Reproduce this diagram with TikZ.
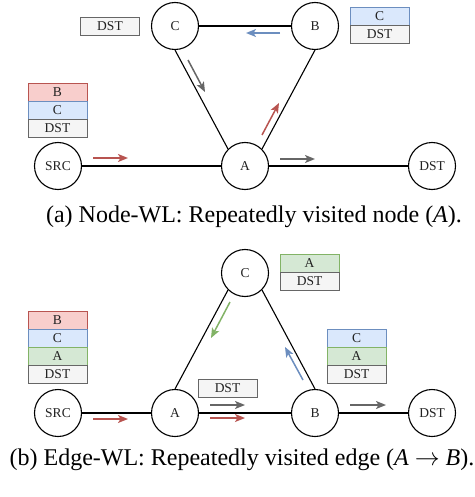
\documentclass[tikz,border=0pt]{standalone}
\usepackage{fontspec}
\setmainfont{Liberation Serif}
\usetikzlibrary{arrows.meta}
\definecolor{rfill}{HTML}{F8CECC}\definecolor{rline}{HTML}{B85450}
\definecolor{bfill}{HTML}{DAE8FC}\definecolor{bline}{HTML}{6C8EBF}
\definecolor{gfill}{HTML}{D5E8D4}\definecolor{gline}{HTML}{82B366}
\definecolor{kfill}{HTML}{F5F5F5}\definecolor{kline}{HTML}{666666}
\definecolor{txt}{HTML}{222222}
\begin{document}
\begin{tikzpicture}[x=1pt,y=-1pt,
  vert/.style={circle,draw=black,line width=1.1pt,fill=white,minimum size=47pt,inner sep=0pt,
    font=\fontsize{13.5}{15}\selectfont,text=txt},
  edge/.style={draw=black,line width=1.1pt},
  cell/.style={draw,line width=0.9pt,minimum width=59pt,minimum height=18pt,inner sep=0pt,
    text height=9pt,text depth=0pt,font=\fontsize{13.5}{15}\selectfont,text=txt},
  rcell/.style={cell,fill=rfill,draw=rline},
  bcell/.style={cell,fill=bfill,draw=bline},
  gcell/.style={cell,fill=gfill,draw=gline},
  kcell/.style={cell,fill=kfill,draw=kline},
  flow/.style={line width=1.5pt,-{Stealth[length=10pt,width=8pt,inset=2.5pt]}},
  captext/.style={font=\fontsize{24}{28}\selectfont,inner sep=0pt}
]
\useasboundingbox (0,0) rectangle (474,497);

% ---------------- (a) ----------------
\node[vert] (aC) at (175,26) {C};
\node[vert] (aB) at (315,26) {B};
\node[vert] (aA) at (245,166) {A};
\node[vert] (aS) at (58,166) {SRC};
\node[vert] (aD) at (432,166) {DST};
\draw[edge] (aC) -- (aB);
\draw[edge] (aC.south) -- (aA.north west);
\draw[edge] (aB.south) -- (aA.north east);
\draw[edge] (aS) -- (aA);
\draw[edge] (aA) -- (aD);

\node[kcell] (aCd) at (110,26) {DST};
\node[bcell] (aBc) at (379.5,16) {C};
\node[kcell] (aBd) at (379.5,34) {DST};
\node[rcell] (aSb) at (57.5,92) {B};
\node[bcell] (aSc) at (57.5,110) {C};
\node[kcell] (aSd) at (57.5,128) {DST};

\coordinate (a1s) at (280,33);  \coordinate (a1e) at (246,33);
\coordinate (a2s) at (188,60);  \coordinate (a2e) at (205,92);
\coordinate (a3s) at (262,135); \coordinate (a3e) at (279,103);
\coordinate (a4s) at (93,158);  \coordinate (a4e) at (128,158);
\coordinate (a5s) at (280,159); \coordinate (a5e) at (315,159);
\draw[flow,bline] (a1s) -- (a1e);
\draw[flow,kline] (a2s) -- (a2e);
\draw[flow,rline] (a3s) -- (a3e);
\draw[flow,rline] (a4s) -- (a4e);
\draw[flow,kline] (a5s) -- (a5e);

\node[captext] (capa) at (254,217) {(a) Node-WL: Repeatedly visited node (\textit{A}).};

% ---------------- (b) ----------------
\node[vert] (bC) at (245,273) {C};
\node[vert] (bA) at (175,413) {A};
\node[vert] (bB) at (315,413) {B};
\node[vert] (bS) at (58,413) {SRC};
\node[vert] (bD) at (432,413) {DST};
\draw[edge] (bC.south west) -- (bA.north);
\draw[edge] (bC.south east) -- (bB.north);
\draw[edge] (bS) -- (bA);
\draw[edge] (bA) -- (bB);
\draw[edge] (bB) -- (bD);

\node[gcell] (bCa) at (309.5,263) {A};
\node[kcell] (bCd) at (309.5,281) {DST};
\node[rcell] (bSb) at (57.5,320) {B};
\node[bcell] (bSc) at (57.5,338) {C};
\node[gcell] (bSa) at (57.5,356) {A};
\node[kcell] (bSd) at (57.5,374) {DST};
\node[bcell] (bBc) at (356.5,338) {C};
\node[gcell] (bBa) at (356.5,356) {A};
\node[kcell] (bBd) at (356.5,374) {DST};
\node[kcell] (bEd) at (227.5,388) {DST};

\coordinate (b1s) at (230,302); \coordinate (b1e) at (211,338);
\coordinate (b2s) at (303,380); \coordinate (b2e) at (285,347);
\coordinate (b3s) at (210,405); \coordinate (b3e) at (245,405);
\coordinate (b4s) at (210,418); \coordinate (b4e) at (245,418);
\coordinate (b5s) at (93,419);  \coordinate (b5e) at (128,419);
\coordinate (b6s) at (350,405); \coordinate (b6e) at (386,405);
\draw[flow,gline] (b1s) -- (b1e);
\draw[flow,bline] (b2s) -- (b2e);
\draw[flow,kline] (b3s) -- (b3e);
\draw[flow,rline] (b4s) -- (b4e);
\draw[flow,rline] (b5s) -- (b5e);
\draw[flow,kline] (b6s) -- (b6e);

\node[captext] (capb) at (242,460) {(b) Edge-WL: Repeatedly visited edge (\textit{A} $\rightarrow$ \textit{B}).};
\end{tikzpicture}
\end{document}
